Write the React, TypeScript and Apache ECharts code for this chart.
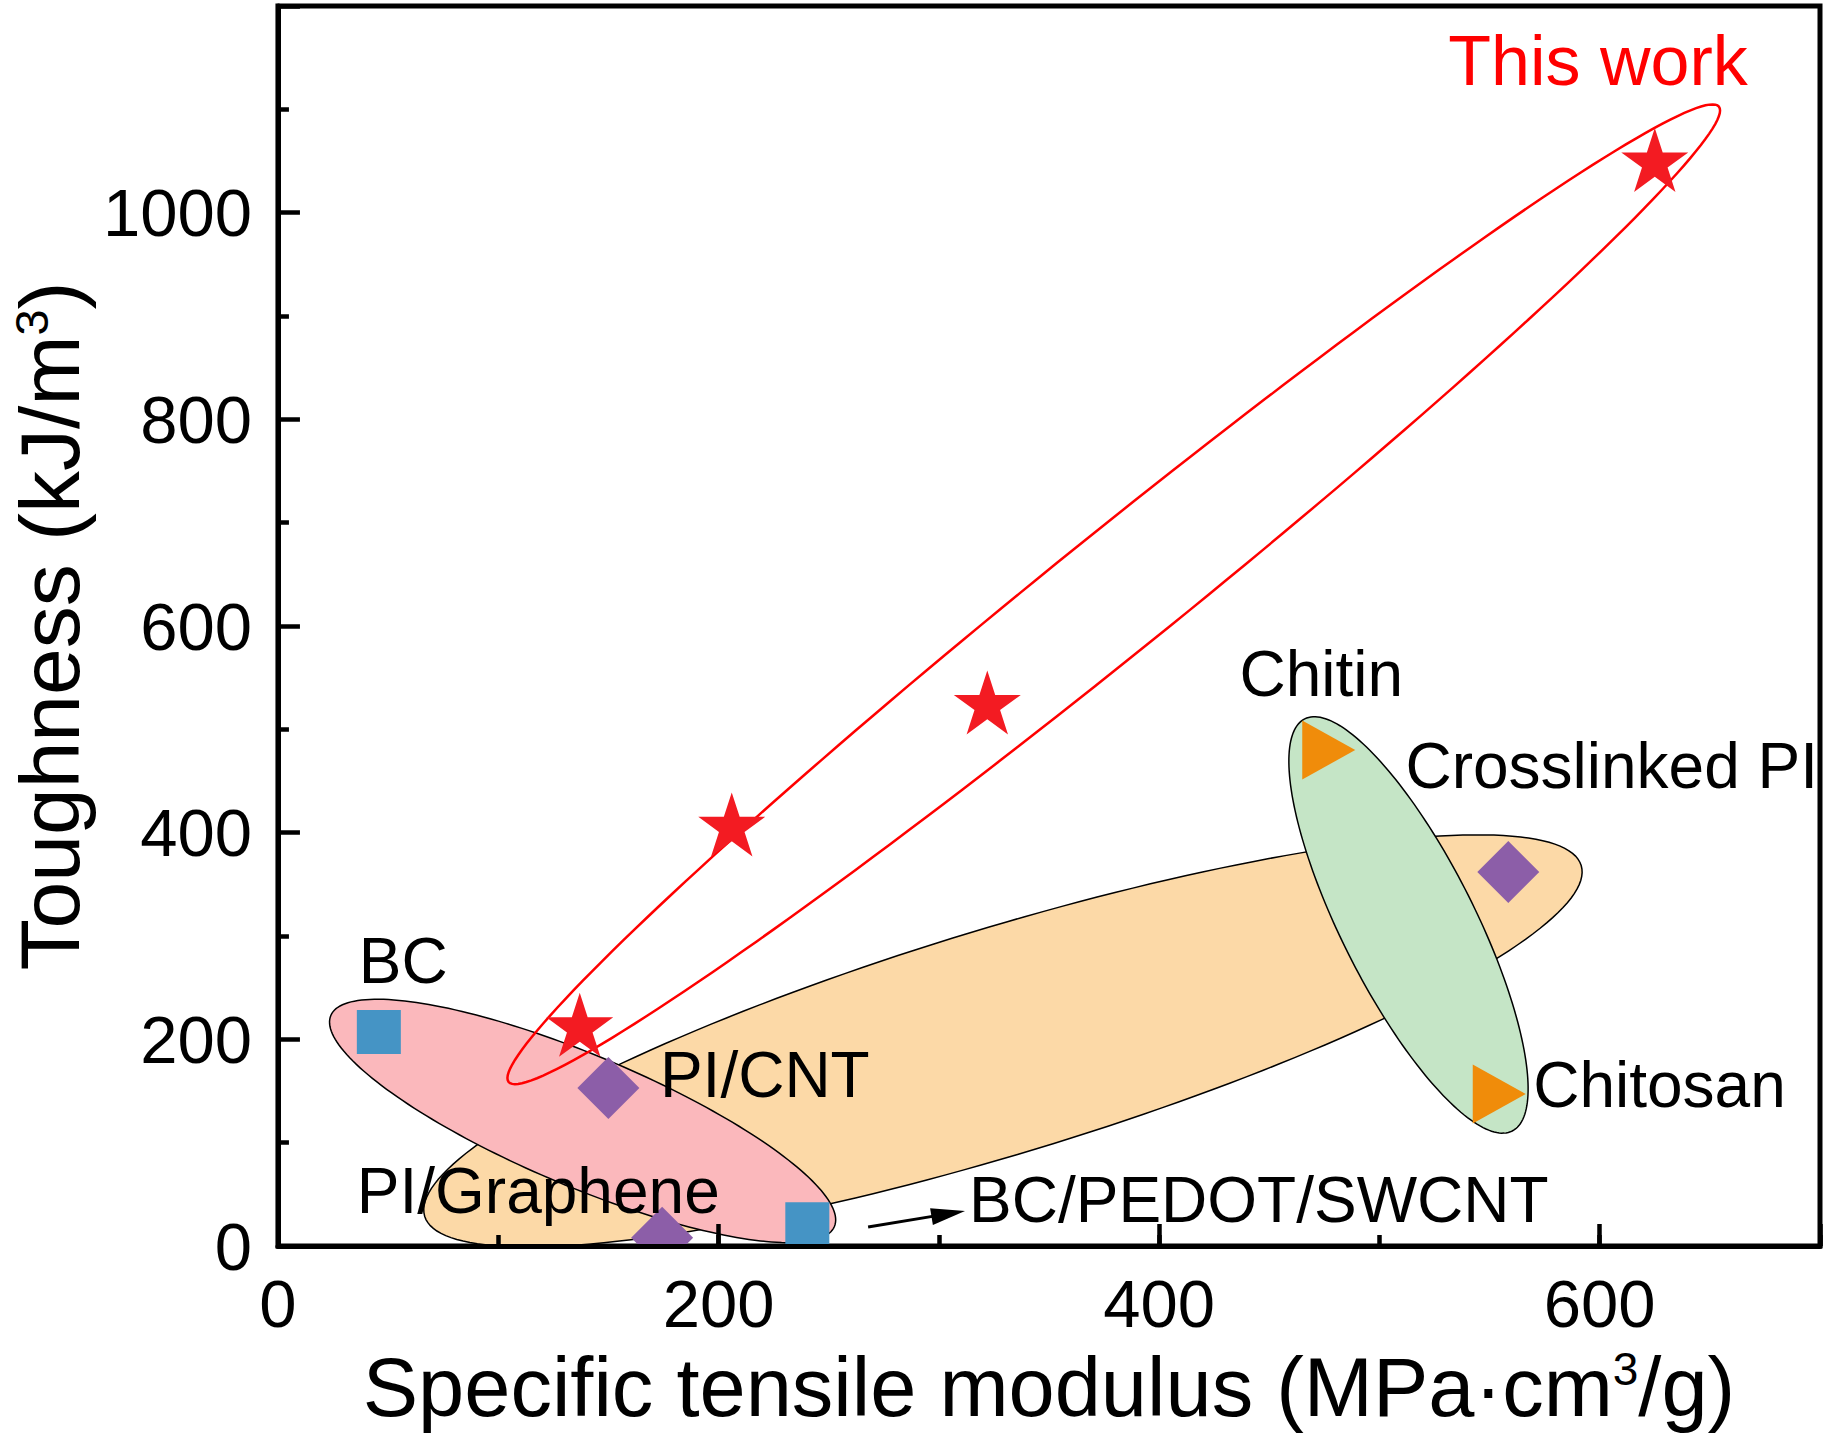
import { useEffect, useRef } from 'react';
import * as echarts from 'echarts';

const FONT = "'Liberation Sans', Arial, Helvetica, sans-serif";

// Axis ranges
const xMin = 0;
const xMax = 700;
const xMajor = 200;
const xMinor = 100;
const yMin = 0;
const yMax = 1200;
const yMajor = 200;

// This work (red stars)
const thisWorkX = [137, 206, 322, 625];
const thisWorkY = [214, 408, 526, 1051];

// BC (blue squares)
const bcX = [45.8, 240.3];
const bcY = [207, 21];

// PI (purple diamonds): PI/CNT, PI/Graphene, Crosslinked PI
const piX = [150, 174.4, 558.5];
const piY = [153, 8, 362];

// Chitin / Chitosan (orange triangles)
const chitX = [477, 554.4];
const chitY = [480, 147];

// Group regions (ellipses): centre, tip of major axis (data units), minor/major ratio
const regionNames = ['PI', 'BC', 'Chitin', 'This work'];
const regionCX = [329.1, 138.3, 513.2, 379.4];
const regionCY = [198.5, 121, 310.7, 630.7];
const regionTipX = [591.6, 252.6, 560.3, 654.1];
const regionTipY = [368.2, 18.9, 111.3, 1102.6];
const regionRatio = [0.187, 0.241, 0.289, 0.0773];

// Annotation texts and their anchors (data units)
const labelTexts = ['This work', 'Chitin', 'Crosslinked PI', 'Chitosan', 'PI/CNT', 'BC', 'PI/Graphene', 'BC/PEDOT/SWCNT'];
const labelX = [531.3, 436.5, 511.8, 569.8, 173.4, 36.7, 35.8, 313.7];
const labelY = [1146.5, 553.7, 464.2, 155.9, 165.5, 275.9, 52.8, 44.5];

// Arrow pointing to BC/PEDOT/SWCNT label (data units)
const arrowFrom = [267.9, 18.4];
const arrowTo = [311.9, 33.9];

// styles
const regionFill = ['#FCD9A7', '#FBB8BC', '#C5E5C6', 'rgba(0,0,0,0)'];
const regionStroke = ['#000', '#000', '#000', '#FF0000'];
const regionLineWidth = [1.5, 1.5, 1.5, 2.5];
const labelColor = ['#FF0000', '#000', '#000', '#000', '#000', '#000', '#000', '#000'];
const labelSize = [70, 64, 64, 64, 64, 64, 64, 64];

const STAR = 'path://M50,0L61.23,34.55L97.55,34.55L68.16,55.9L79.39,90.45L50,69.1L20.61,90.45L31.84,55.9L2.45,34.55L38.77,34.55Z';

export default function App() {
  const ref = useRef<HTMLDivElement>(null);
  useEffect(() => {
    if (!ref.current) return;
    const chart = echarts.init(ref.current, null, { renderer: 'svg' });

    const ellipseData = regionCX.map((cx, i) => [cx, regionCY[i], regionTipX[i], regionTipY[i], regionRatio[i]]);

    const axisLabelBase = { color: '#000', fontSize: 67, fontFamily: FONT };

    const option: any = {
      animation: false,
      backgroundColor: '#fff',
      grid: {
        left: 276, right: 6, top: 6, bottom: 194,
        show: true, borderColor: '#000', borderWidth: 5, backgroundColor: 'rgba(0,0,0,0)',
      },
      xAxis: [
        {
          type: 'value', min: xMin, max: xMax, interval: xMajor, position: 'bottom', z: 10,
          axisLine: { show: true, onZero: false, lineStyle: { color: '#000', width: 5 } },
          axisTick: { show: true, inside: true, length: 22, lineStyle: { color: '#000', width: 4.5 } },
          axisLabel: { ...axisLabelBase, margin: 24, formatter: (v: number) => (v % xMajor === 0 ? String(v) : '') },
          splitLine: { show: false },
          name: '{a|Specific tensile modulus (MPa·cm}{s|3}{a|/g)}',
          nameLocation: 'middle',
          nameGap: 100,
          nameTextStyle: {
            color: '#000', fontSize: 83, fontFamily: FONT,
            rich: {
              a: { color: '#000', fontSize: 83, fontFamily: FONT, lineHeight: 83 },
              s: { color: '#000', fontSize: 46, fontFamily: FONT, lineHeight: 28, verticalAlign: 'top' },
            },
          },
        },
        {
          type: 'value', min: xMin, max: xMax, interval: xMinor, position: 'bottom', z: 10,
          axisLine: { show: false },
          axisTick: { show: true, inside: true, length: 11, lineStyle: { color: '#000', width: 4.5 } },
          axisLabel: { show: false },
          splitLine: { show: false },
        },
      ],
      yAxis: {
        type: 'value', min: yMin, max: yMax, interval: yMajor, z: 10,
        axisLine: { show: true, onZero: false, lineStyle: { color: '#000', width: 5 } },
        axisTick: { show: true, inside: true, length: 22, lineStyle: { color: '#000', width: 4.5 } },
        minorTick: { show: true, splitNumber: 2, length: 11, lineStyle: { color: '#000', width: 4.5 } },
        axisLabel: { ...axisLabelBase, margin: 26, formatter: (v: number) => (v >= yMax ? '' : String(v)) },
        splitLine: { show: false },
        minorSplitLine: { show: false },
        name: '{a|Toughness (kJ/m}{s|3}{a|)}',
        nameLocation: 'middle',
        nameRotate: 90,
        nameGap: 153,
        nameTextStyle: {
          color: '#000', fontSize: 84, fontFamily: FONT,
          rich: {
            a: { color: '#000', fontSize: 84, fontFamily: FONT, lineHeight: 84 },
            s: { color: '#000', fontSize: 47, fontFamily: FONT, lineHeight: 28, verticalAlign: 'top' },
          },
        },
      },
      series: [
        {
          type: 'custom', name: 'regions', clip: true, z: 1,
          data: ellipseData,
          renderItem: (params: any, api: any) => {
            const i = params.dataIndex;
            const c = api.coord([api.value(0), api.value(1)]);
            const t = api.coord([api.value(2), api.value(3)]);
            const dx = t[0] - c[0];
            const dy = t[1] - c[1];
            const a = Math.hypot(dx, dy);
            const b = a * (api.value(4) as number);
            const phi = Math.atan2(dy, dx);
            const pts: number[][] = [];
            const N = 200;
            for (let k = 0; k < N; k++) {
              const th = (k / N) * Math.PI * 2;
              const ex = a * Math.cos(th);
              const ey = b * Math.sin(th);
              pts.push([
                c[0] + ex * Math.cos(phi) - ey * Math.sin(phi),
                c[1] + ex * Math.sin(phi) + ey * Math.cos(phi),
              ]);
            }
            return {
              type: 'polygon',
              shape: { points: pts },
              style: { fill: regionFill[i], stroke: regionStroke[i], lineWidth: regionLineWidth[i] },
            };
          },
        },
        {
          type: 'scatter', name: 'BC', z: 3,
          symbol: 'rect', symbolSize: 44,
          itemStyle: { color: '#4594C5', opacity: 1 },
          data: bcX.map((x, i) => [x, bcY[i]]),
        },
        {
          type: 'custom', name: 'PI', clip: true, z: 3,
          data: piX.map((x, i) => [x, piY[i]]),
          renderItem: (params: any, api: any) => {
            const c = api.coord([api.value(0), api.value(1)]);
            const h = 31;
            return {
              type: 'polygon',
              shape: { points: [[c[0], c[1] - h], [c[0] + h, c[1]], [c[0], c[1] + h], [c[0] - h, c[1]]] },
              style: { fill: '#8C5EA8' },
            };
          },
        },
        {
          type: 'scatter', name: 'Chitin', z: 3,
          symbol: 'triangle', symbolSize: [59, 53], symbolRotate: -90,
          itemStyle: { color: '#F08C0A', opacity: 1 },
          data: chitX.map((x, i) => [x, chitY[i]]),
        },
        {
          type: 'scatter', name: 'This work', z: 3,
          symbol: STAR, symbolSize: [67, 64],
          itemStyle: { color: '#F31B22', opacity: 1 },
          data: thisWorkX.map((x, i) => [x, thisWorkY[i]]),
        },
        {
          type: 'custom', name: 'arrow', clip: false, z: 4,
          data: [[arrowFrom[0], arrowFrom[1], arrowTo[0], arrowTo[1]]],
          renderItem: (params: any, api: any) => {
            const s = api.coord([api.value(0), api.value(1)]);
            const e = api.coord([api.value(2), api.value(3)]);
            const ang = Math.atan2(e[1] - s[1], e[0] - s[0]);
            const L = 34;
            const W = 8.5;
            const bx = e[0] - L * Math.cos(ang);
            const by = e[1] - L * Math.sin(ang);
            return {
              type: 'group',
              children: [
                { type: 'line', shape: { x1: s[0], y1: s[1], x2: bx + 4 * Math.cos(ang), y2: by + 4 * Math.sin(ang) }, style: { stroke: '#000', lineWidth: 3 } },
                {
                  type: 'polygon',
                  shape: { points: [[e[0], e[1]], [bx - W * Math.sin(ang), by + W * Math.cos(ang)], [bx + W * Math.sin(ang), by - W * Math.cos(ang)]] },
                  style: { fill: '#000' },
                },
              ],
            };
          },
        },
        {
          type: 'custom', name: 'labels', clip: false, z: 5,
          data: labelX.map((x, i) => [x, labelY[i]]),
          renderItem: (params: any, api: any) => {
            const i = params.dataIndex;
            const c = api.coord([api.value(0), api.value(1)]);
            return {
              type: 'text',
              x: c[0],
              y: c[1],
              style: {
                text: labelTexts[i],
                fill: labelColor[i],
                fontSize: labelSize[i],
                fontFamily: FONT,
                align: 'left',
                verticalAlign: 'middle',
              },
            };
          },
        },
      ],
    };

    chart.setOption(option);
    return () => {
      chart.dispose();
    };
  }, []);

  return (
    <div
      ref={ref}
      style={{ position: 'absolute', left: 0, top: 0, width: 1826, height: 1440, background: '#fff' }}
    />
  );
}
